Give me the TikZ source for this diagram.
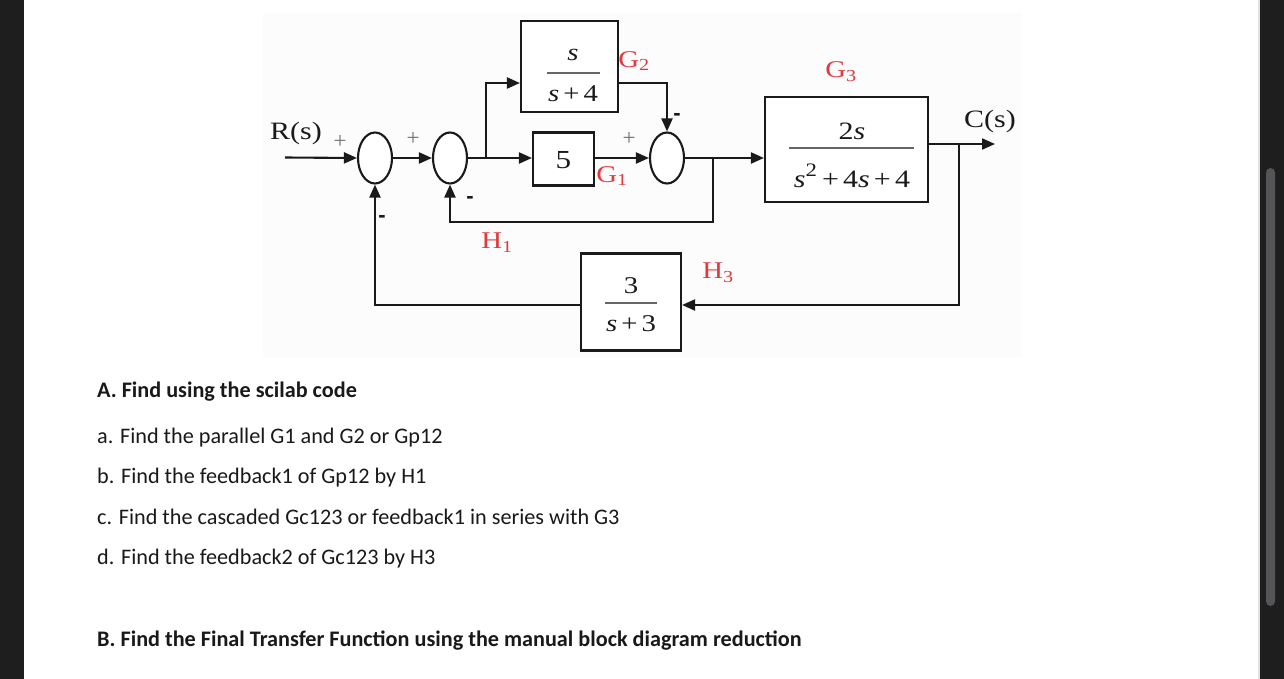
\documentclass[tikz,border=0pt]{standalone}
\usepackage{fontspec}
\setmainfont{Liberation Serif}
\newfontfamily\dg[FakeStretch=1.2]{Liberation Serif}
\newfontfamily\sgn{Liberation Sans}
\newfontfamily\calfnt{Carlito}
\usetikzlibrary{arrows.meta,shapes.geometric,calc}
\definecolor{lblred}{HTML}{E0393E}
\definecolor{ink}{HTML}{1A1A1A}
\definecolor{darkband}{HTML}{1E1E1F}
\definecolor{barcol}{HTML}{555557}
\definecolor{diagbg}{HTML}{FCFCFC}
\begin{document}
\begin{tikzpicture}[x=1pt,y=-1pt,
  line/.style={draw=ink,line width=2.1pt},
  arr/.style={line,-{Triangle[length=13pt,width=11pt]}},
  blk/.style n args={2}{draw=ink,line width=2.1pt,minimum width=#1,minimum height=#2,inner sep=0pt,fill=white},
  sumj/.style={ellipse,draw=ink,line width=2.1pt,minimum width=34pt,minimum height=51pt,inner sep=0pt,fill=white},
  redlbl/.style={text=lblred,font=\dg\fontsize{24}{26}\selectfont,inner sep=0pt},
  plus/.style={text=black!55,font=\fontsize{23}{24}\selectfont,inner sep=0pt},
  minus/.style={text=ink,font=\sgn\bfseries\fontsize{22}{22}\selectfont,inner sep=0pt},
  sig/.style={text=ink,font=\dg\fontsize{25}{28}\selectfont,inner sep=0pt},
  ftxt/.style={text=ink,font=\dg\fontsize{24}{28}\selectfont,inner sep=0pt},
  fline/.style={draw=black!60,line width=1.3pt},
  txt/.style={anchor=base west,inner sep=0pt,text=black!90,font=\calfnt\fontsize{22.2}{26}\selectfont},
  btxt/.style={txt,font=\calfnt\bfseries\fontsize{22.2}{26}\selectfont}
]
\useasboundingbox (0,0) rectangle (1284,679);
\fill[white] (0,0) rectangle (1284,679);
\fill[diagbg] (263,13) rectangle (1022,357);
\fill[darkband] (0,0) rectangle (24,679);
\fill[darkband] (1260,0) rectangle (1284,679);
\fill[black!12] (1257.5,0) rectangle (1260,679);
\fill[barcol,rounded corners=4.5pt] (1266,168) rectangle (1275,606);

% helper coordinates
\coordinate (y83) at (0,83);
\coordinate (y144) at (0,144);
\coordinate (y305) at (0,305);
\coordinate (fb1) at (0,222);
\coordinate (Rin) at (285,157.5);
\coordinate (b1) at (486,157.5);
\coordinate (b2) at (713,157.5);
\coordinate (b3) at (959,144);
\coordinate (Cout) at (995,144);

% junctions and blocks
\node[sumj] (s1) at (375,158) {};
\node[sumj] (s2) at (450,158) {};
\node[sumj] (s3) at (667,158) {};
\node[blk={97pt}{91pt}] (G2) at (569.5,66.5) {};
\node[blk={61pt}{53pt}] (G1) at (563.5,159) {};
\node[blk={163pt}{105pt}] (G3) at (846.5,149.5) {};
\node[blk={100pt}{97pt}] (H3) at (631,302) {};

% block contents
\node[ftxt] (G2n) at (573,55) {\itshape s};
\node[ftxt] (G2d) at (573,94) {\itshape s\upshape\,+\,4};
\draw[fline] (547,73) -- (600,73);
\node[ftxt,font=\dg\fontsize{26}{28}\selectfont] (G1t) at (563.5,160) {5};
\node[ftxt,font=\dg\fontsize{25}{28}\selectfont] (G3n) at (852,131) {2\itshape s};
\node[ftxt,font=\dg\fontsize{25}{28}\selectfont] (G3d) at (852,176) {\itshape s\upshape\raisebox{0.42em}{\fontsize{19}{20}\selectfont 2}\hspace{5pt}+\,4\itshape s\upshape\,+\,4};
\draw[fline] (789,148) -- (914,148);
\node[ftxt] (H3n) at (631,286) {3};
\node[ftxt] (H3d) at (631,324) {\itshape s\upshape\,+\,3};
\draw[fline] (605,303) -- (657,303);

% connectors
\draw[arr] (Rin) -- (s1.west);
\draw[arr] (s1.east) -- (s2.west);
\draw[arr] (s2.east) -- (G1.west |- s2.east);
\draw[arr] (b1) |- (G2.west |- y83);
\draw[arr] (G1.east |- s3.west) -- (s3.west);
\draw[arr] (G2.east |- y83) -| (s3.north);
\draw[arr] (s3.east) -- (G3.west |- s3.east);
\draw[arr] (b2) -- (b2 |- fb1) -| (s2.south);
\draw[arr] (G3.east |- y144) -- (Cout);
\draw[arr] (b3) |- (H3.east |- y305);
\draw[arr] (H3.west |- y305) -| (s1.south);

% signals
\node[sig] (R) at (296,133) {R(s)};
\node[sig] (C) at (990,121) {C(s)};

% signs
\node[plus] (p1) at (340,142) {+};
\node[plus] (p2) at (413,139) {+};
\node[plus] (p3) at (629,139) {+};
\node[minus] (m1) at (382,219) {-};
\node[minus] (m2) at (470,200) {-};
\node[minus] (m3) at (677,117) {-};

% red labels
\node[redlbl] (lG2) at (634,61) {G\textsubscript{2}};
\node[redlbl] (lG1) at (612,176) {G\textsubscript{1}};
\node[redlbl] (lG3) at (841,72) {G\textsubscript{3}};
\node[redlbl] (lH1) at (497,243) {H\textsubscript{1}};
\node[redlbl] (lH3) at (718,273) {H\textsubscript{3}};

% text
\node[btxt] (tA) at (97,397) {A. Find using the scilab code};
\node[txt] (ta) at (97,443) {a. Find the parallel G1 and G2 or Gp12};
\node[txt] (tb) at (97,483) {b. Find the feedback1 of Gp12 by H1};
\node[txt] (tc) at (97,524) {c. Find the cascaded Gc123 or feedback1 in series with G3};
\node[txt] (td) at (97,564) {d. Find the feedback2 of Gc123 by H3};
\node[btxt] (tB) at (97,646) {B. Find the Final Transfer Function using the manual block diagram reduction};
\end{tikzpicture}
\end{document}
